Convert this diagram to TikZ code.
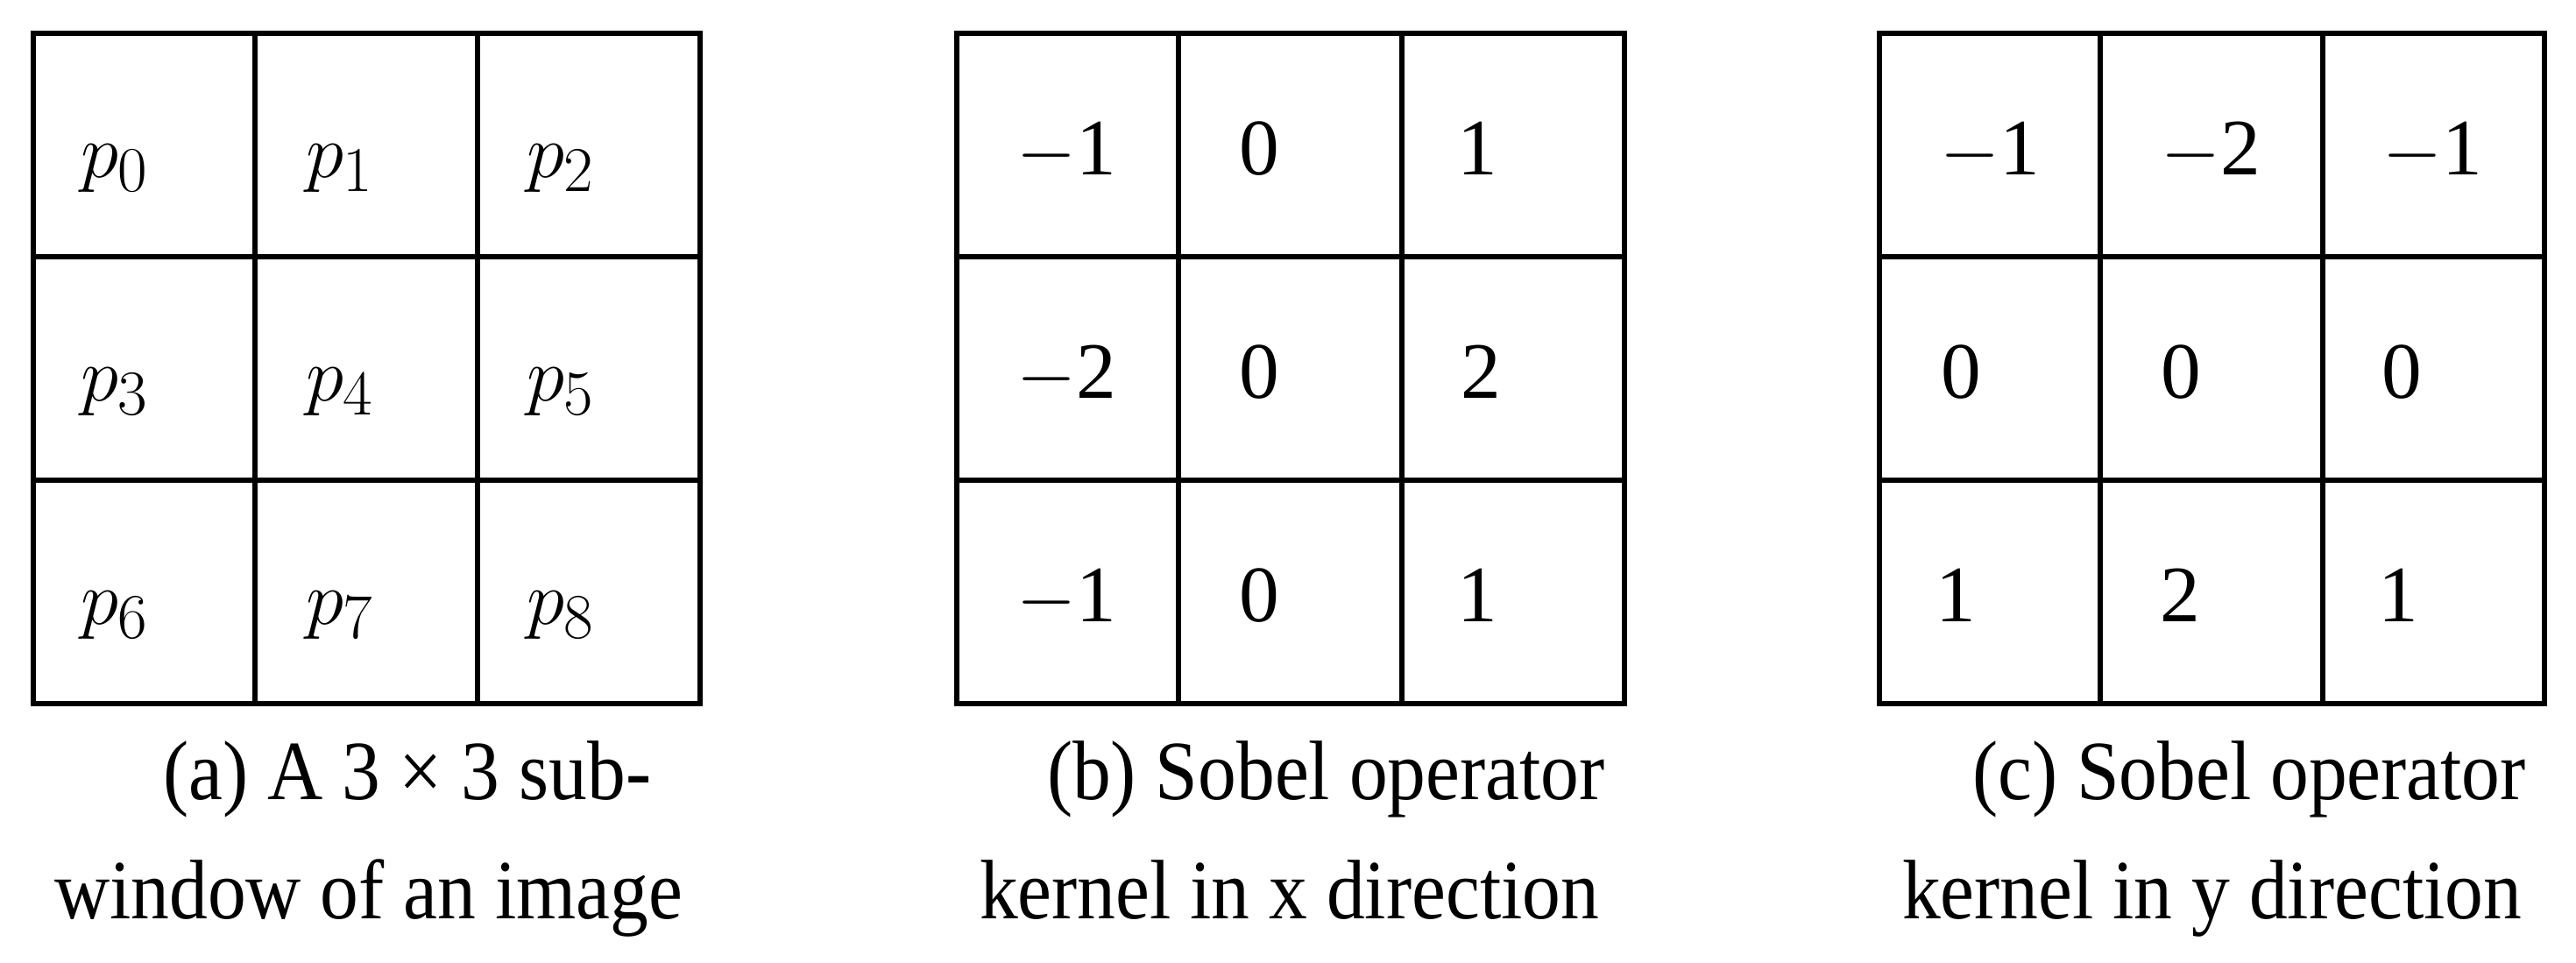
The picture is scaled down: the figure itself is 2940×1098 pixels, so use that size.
\documentclass[tikz,border=0pt]{standalone}
\usepackage[no-math]{fontspec}
\setmainfont{Liberation Serif}
\usetikzlibrary{calc}
\tikzset{
  gridline/.style={line width=0.55mm, black},
  pcell/.style={anchor=base west, inner sep=0pt, outer sep=0pt, font=\fontsize{29pt}{34pt}\selectfont},
  numcell/.style={anchor=base west, inner sep=0pt, outer sep=0pt, font=\fontsize{26pt}{31pt}\selectfont},
  captext/.style={anchor=base west, inner sep=0pt, outer sep=0pt, font=\fontsize{24.9pt}{30pt}\selectfont},
}
\newcommand{\capstretch}[1]{\scalebox{1}[1.1]{#1}}
\newcommand{\mns}{$-$}
\begin{document}
\begin{tikzpicture}[x=0.1mm,y=-0.1mm]
\useasboundingbox (0,0) rectangle (2940,1098);
% ---------- grid (a)
\draw[gridline] (38,38) rectangle (799,803);
\draw[gridline] (291,38) -- (291,803) (545,38) -- (545,803)
                (38,293) -- (799,293) (38,548) -- (799,548);
% ---------- grid (b)
\draw[gridline] (1092,38) rectangle (1854,803);
\draw[gridline] (1345,38) -- (1345,803) (1600,38) -- (1600,803)
                (1092,293) -- (1854,293) (1092,548) -- (1854,548);
% ---------- grid (c)
\draw[gridline] (2145,38) rectangle (2904,803);
\draw[gridline] (2397,38) -- (2397,803) (2651,38) -- (2651,803)
                (2145,293) -- (2904,293) (2145,548) -- (2904,548);

% ---------- entries (a)
\node[pcell] (a00) at (92,202)  {$p_0$};
\node[pcell] (a01) at (349,202) {$p_1$};
\node[pcell] (a02) at (601,202) {$p_2$};
\node[pcell] (a10) at (92,457)  {$p_3$};
\node[pcell] (a11) at (349,457) {$p_4$};
\node[pcell] (a12) at (601,457) {$p_5$};
\node[pcell] (a20) at (92,712)  {$p_6$};
\node[pcell] (a21) at (349,712) {$p_7$};
\node[pcell] (a22) at (601,712) {$p_8$};

% ---------- entries (b)
\node[numcell] (b00) at (1160,199) {\mns1};
\node[numcell] (b01) at (1414,199) {0};
\node[numcell] (b02) at (1663,199) {1};
\node[numcell] (b10) at (1160,454) {\mns2};
\node[numcell] (b11) at (1414,454) {0};
\node[numcell] (b12) at (1667,454) {2};
\node[numcell] (b20) at (1160,709) {\mns1};
\node[numcell] (b21) at (1414,709) {0};
\node[numcell] (b22) at (1663,709) {1};

% ---------- entries (c)
\node[numcell] (c00) at (2214,199) {\mns1};
\node[numcell] (c01) at (2466,199) {\mns2};
\node[numcell] (c02) at (2719,199) {\mns1};
\node[numcell] (c10) at (2215,454) {0};
\node[numcell] (c11) at (2466,454) {0};
\node[numcell] (c12) at (2718,454) {0};
\node[numcell] (c20) at (2209,709) {1};
\node[numcell] (c21) at (2465,709) {2};
\node[numcell] (c22) at (2714,709) {1};

% ---------- captions
\node[captext] (capa1) at (186,912)  {\capstretch{(a) A 3 × 3 sub-}};
\node[captext] (capa2) at (62,1048)  {\capstretch{window of an image}};
\node[captext] (capb1) at (1195,912) {\capstretch{(b) Sobel operator}};
\node[captext] (capb2) at (1118,1048) {\capstretch{kernel in x direction}};
\node[captext] (capc1) at (2251,912) {\capstretch{(c) Sobel operator}};
\node[captext] (capc2) at (2171,1048) {\capstretch{kernel in y direction}};
\end{tikzpicture}
\end{document}
